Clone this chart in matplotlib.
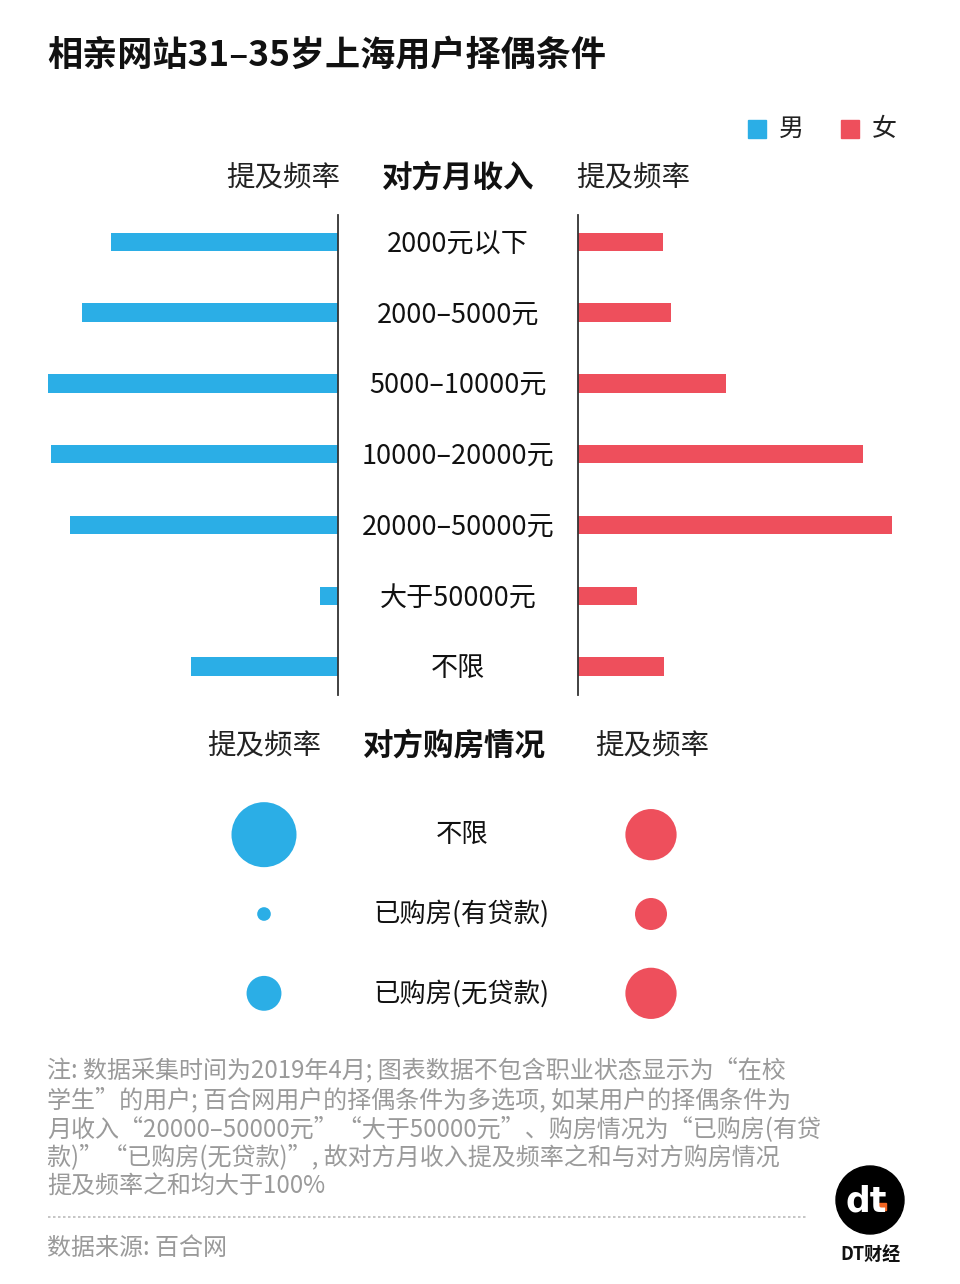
import matplotlib
matplotlib.use('Agg')
import matplotlib.pyplot as plt
from matplotlib.patches import Circle, Rectangle
from matplotlib.lines import Line2D

plt.rcParams['font.family'] = ['Noto Sans CJK SC', 'DejaVu Sans']

W, H = 960, 1284
BLUE = '#2BAEE6'
RED = '#EE4F5C'
GREY = '#9A9A9A'

# data
income_labels = ['2000元以下', '2000–5000元', '5000–10000元', '10000–20000元',
                 '20000–50000元', '大于50000元', '不限']
income_male = [22.7, 25.6, 29.0, 28.7, 26.8, 1.8, 14.7]
income_female = [8.5, 9.3, 14.8, 28.5, 31.4, 5.9, 8.6]

house_labels = ['不限', '已购房(有贷款)', '已购房(无贷款)']
house_male = [66, 2.9, 19]
house_female = [41, 16, 41]

note_lines = [
    '注: 数据采集时间为2019年4月; 图表数据不包含职业状态显示为“在校',
    '学生”的用户; 百合网用户的择偶条件为多选项, 如某用户的择偶条件为',
    '月收入“20000–50000元”“大于50000元”、购房情况为“已购房(有贷',
    '款)”“已购房(无贷款)”, 故对方月收入提及频率之和与对方购房情况',
    '提及频率之和均大于100%',
]


def fx(x):
    return x / W


def fy(y):
    return 1 - y / H


def add_ax(x0, y0, x1, y1):
    return fig.add_axes([fx(x0), fy(y1), fx(x1) - fx(x0), fy(y0) - fy(y1)])


fig = plt.figure(figsize=(W / 100, H / 100), dpi=100)
fig.patch.set_facecolor('white')

fig.text(fx(47), fy(55), '相亲网站31–35岁上海用户择偶条件', fontsize=25.3,
         fontweight='bold', va='center', ha='left', color='#111111')

# legend
fig.patches.append(Rectangle((fx(748), fy(138)), fx(18), 18 / H, color=BLUE,
                             transform=fig.transFigure))
fig.text(fx(779), fy(129), '男', fontsize=18, va='center', ha='left', color='#222222')
fig.patches.append(Rectangle((fx(841), fy(138)), fx(18), 18 / H, color=RED,
                             transform=fig.transFigure))
fig.text(fx(872), fy(129), '女', fontsize=18, va='center', ha='left', color='#222222')

# headers
fig.text(fx(283), fy(178), '提及频率', fontsize=20.5, ha='center', va='center', color='#222222')
fig.text(fx(457), fy(178), '对方月收入', fontsize=22, fontweight='bold', ha='center', va='center', color='#111111')
fig.text(fx(633), fy(178), '提及频率', fontsize=20.5, ha='center', va='center', color='#222222')

# income bars
y_top, y_bot = 215, 695
rows = list(range(len(income_labels)))
axL = add_ax(30, y_top, 338, y_bot)
axR = add_ax(578, y_top, 930, y_bot)
axL.barh(rows, income_male, height=0.26, color=BLUE)
axR.barh(rows, income_female, height=0.26, color=RED)
axL.set_xlim(30.8, 0)
axR.set_xlim(0, 35.2)
for ax in (axL, axR):
    ax.set_ylim(6.4, -0.38)
    ax.set_xticks([])
    ax.set_yticks([])
    for s in ax.spines.values():
        s.set_visible(False)
    ax.patch.set_alpha(0)
axL.spines['right'].set_visible(True)
axL.spines['right'].set_color('#333333')
axL.spines['right'].set_linewidth(1.3)
axR.spines['left'].set_visible(True)
axR.spines['left'].set_color('#333333')
axR.spines['left'].set_linewidth(1.3)
for i, lab in enumerate(income_labels):
    axL.annotate(lab, xy=(1.0, i), xycoords=('axes fraction', 'data'),
                 xytext=(120 * 0.72, -2.2), textcoords='offset points',
                 ha='center', va='center', fontsize=19.5, color='#111111',
                 annotation_clip=False)

# house section
fig.text(fx(264), fy(746), '提及频率', fontsize=20.5, ha='center', va='center', color='#222222')
fig.text(fx(454), fy(746), '对方购房情况', fontsize=22, fontweight='bold', ha='center', va='center', color='#111111')
fig.text(fx(652), fy(746), '提及频率', fontsize=20.5, ha='center', va='center', color='#222222')

axB = add_ax(0, 795, W, 1033)
axB.set_xlim(0, W)
axB.set_ylim(2.5, -0.5)
axB.axis('off')
hrows = list(range(len(house_labels)))
k = 33.2
axB.scatter([264] * 3, hrows, s=[v * k for v in house_male], color=BLUE, linewidths=0)
axB.scatter([651] * 3, hrows, s=[v * k for v in house_female], color=RED, linewidths=0)
for i, lab in enumerate(house_labels):
    axB.text(462, i, lab, ha='center', va='center', fontsize=19, color='#111111')

# note
for i, line in enumerate(note_lines):
    fig.text(fx(47), fy(1071 + i * 28.8), line, fontsize=17.3, ha='left', va='center', color=GREY)

fig.lines.append(Line2D([fx(48), fx(808)], [fy(1217), fy(1217)], transform=fig.transFigure,
                        color='#BBBBBB', linewidth=1.2, linestyle=(0, (1.5, 1.5))))
fig.text(fx(47), fy(1248), '数据来源: 百合网', fontsize=17.3, ha='left', va='center', color=GREY)

# logo
axLogo = add_ax(834, 1164, 906, 1236)
axLogo.set_xlim(0, 72)
axLogo.set_ylim(72, 0)
axLogo.set_aspect('equal')
axLogo.axis('off')
axLogo.add_patch(Circle((36, 36), 34, color='black'))
axLogo.text(32, 37, 'dt', fontsize=25, fontweight='bold', color='white', ha='center', va='center',
            family='DejaVu Sans')
axLogo.add_patch(Rectangle((45, 39), 7, 7, color='#F26522'))
fig.text(fx(870), fy(1255), 'DT财经', fontsize=13, fontweight='bold', ha='center', va='center', color='#111111')

fig.savefig('out.png', dpi=100, facecolor='white')
